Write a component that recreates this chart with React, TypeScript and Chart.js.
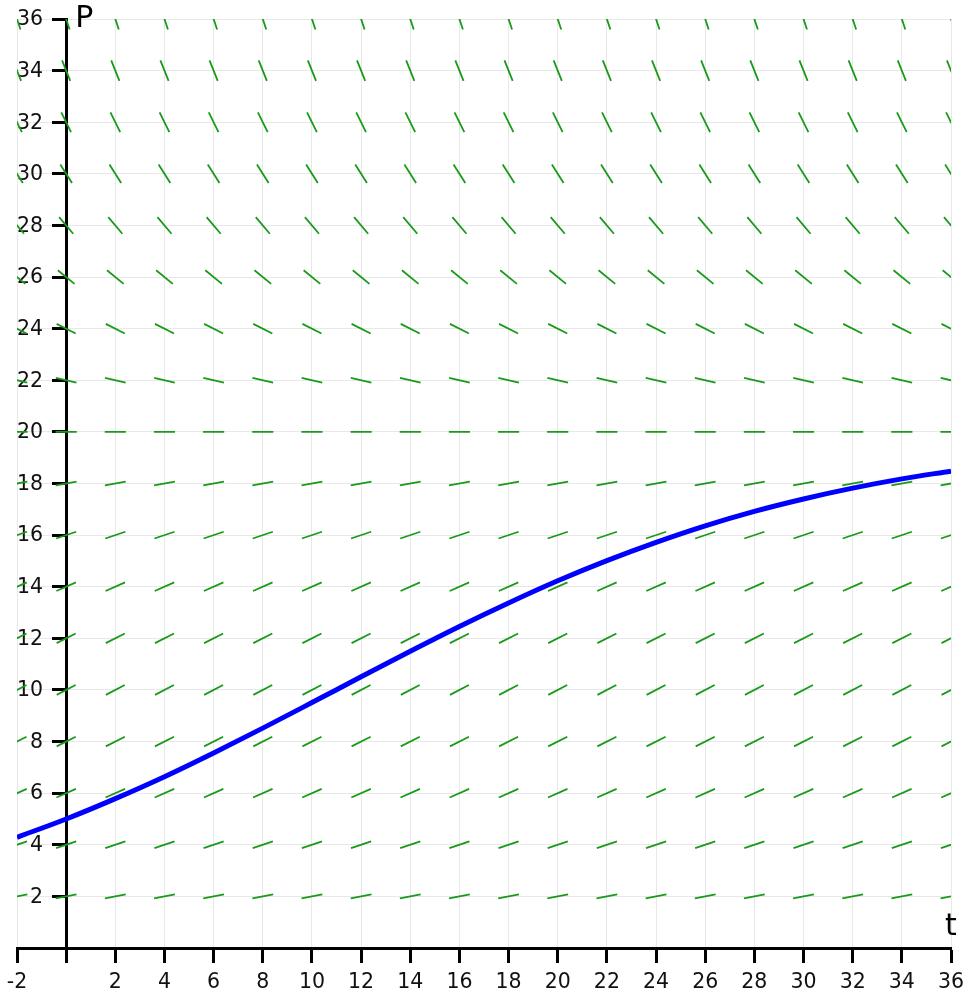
import React, { useEffect, useRef } from "react";
import { Chart, registerables } from "chart.js";

Chart.register(...registerables);

// Slope field grid
const tGrid = [-2, 0, 2, 4, 6, 8, 10, 12, 14, 16, 18, 20, 22, 24, 26, 28, 30, 32, 34, 36];
const pGrid = [2, 4, 6, 8, 10, 12, 14, 16, 18, 20, 22, 24, 26, 28, 30, 32, 34, 36];
// slope dP/dt read at each P row
const slopes = [0.18, 0.32, 0.42, 0.48, 0.5, 0.48, 0.42, 0.32, 0.18, 0, -0.22, -0.48, -0.78, -1.12, -1.5, -1.92, -2.38, -2.88];

// Solution curve
const curveT = [-2, 0, 2, 4, 6, 8, 10, 12, 14, 16, 18, 20, 22, 24, 26, 28, 30, 32, 34, 36];
const curveP = [4.29, 5, 5.79, 6.64, 7.56, 8.52, 9.51, 10.51, 11.5, 12.46, 13.37, 14.23, 15.01, 15.72, 16.36, 16.92, 17.4, 17.82, 18.18, 18.48];

const SEG_HALF = 0.43;
const FONT = "'DejaVu Sans', sans-serif";

export default function App() {
  const ref = useRef<HTMLCanvasElement | null>(null);

  useEffect(() => {
    if (!ref.current) return;
    const segData: { x: number; y: number | null }[] = [];
    pGrid.forEach((p, i) => {
      const m = slopes[i];
      const dx = SEG_HALF / Math.sqrt(1 + m * m);
      tGrid.forEach((t) => {
        segData.push({ x: t - dx, y: p - m * dx });
        segData.push({ x: t + dx, y: p + m * dx });
        segData.push({ x: t, y: null });
      });
    });
    const curveData = curveT.map((t, i) => ({ x: t, y: curveP[i] }));

    const yLabels = {
      id: "yLabels",
      beforeDatasetsDraw(chart: any) {
        const { ctx, scales } = chart;
        const x0 = scales.x.getPixelForValue(0);
        ctx.save();
        ctx.fillStyle = "#111";
        ctx.font = `20.5px ${FONT}`;
        ctx.textAlign = "right";
        ctx.textBaseline = "middle";
        scales.y.ticks.forEach((tk: any) => {
          if (tk.value === 0) return;
          ctx.fillText(String(tk.value), x0 - 23, scales.y.getPixelForValue(tk.value) + 1);
        });
        ctx.restore();
      },
    };

    const titles = {
      id: "axisTitles",
      afterDraw(chart: any) {
        const { ctx, chartArea, scales } = chart;
        const x0 = scales.x.getPixelForValue(0);
        const y0 = scales.y.getPixelForValue(0);
        ctx.save();
        ctx.fillStyle = "#000";
        ctx.font = `30px ${FONT}`;
        ctx.textBaseline = "alphabetic";
        ctx.textAlign = "left";
        ctx.fillText("P", x0 + 9, chartArea.top + 8);
        ctx.textAlign = "center";
        ctx.fillText("t", chartArea.right, y0 - 13);
        ctx.restore();
      },
    };

    const chart = new Chart(ref.current, {
      type: "scatter",
      data: {
        datasets: [
          {
            data: curveData,
            showLine: true,
            borderColor: "#0000ff",
            borderWidth: 5,
            pointRadius: 0,
            cubicInterpolationMode: "monotone",
            clip: 0,
          } as any,
          {
            data: segData,
            showLine: true,
            spanGaps: false,
            borderColor: "#1a9a1a",
            borderWidth: 1.8,
            pointRadius: 0,
            clip: 0,
          } as any,
        ],
      },
      plugins: [yLabels, titles],
      options: {
        animation: false,
        responsive: true,
        maintainAspectRatio: false,
        layout: { padding: { left: 17, top: 19, right: 22, bottom: 52 } },
        plugins: { legend: { display: false }, tooltip: { enabled: false } },
        scales: {
          x: {
            type: "linear",
            min: -2,
            max: 36,
            position: { y: 0 } as any,
            afterFit: (s: any) => {
              s.paddingLeft = 0;
              s.paddingRight = 0;
            },
            ticks: {
              stepSize: 2,
              color: "#111",
              font: { family: FONT, size: 20.5 },
              padding: 9,
              maxRotation: 0,
              autoSkip: false,
              callback: (v: any) => (v === 0 ? "" : String(v)),
            },
            grid: { color: "#e8e8e8", lineWidth: 1, tickColor: "#000", tickWidth: 3, tickLength: 13 },
            border: { color: "#000", width: 3 },
          },
          y: {
            type: "linear",
            min: 0,
            max: 36,
            position: { x: 0 } as any,
            afterFit: (s: any) => {
              s.paddingTop = 0;
              s.paddingBottom = 0;
            },
            ticks: {
              stepSize: 2,
              display: false,
              autoSkip: false,
            },
            grid: { color: "#e8e8e8", lineWidth: 1, tickColor: "#000", tickWidth: 3, tickLength: 13 },
            border: { color: "#000", width: 3 },
          },
        },
      } as any,
    });
    return () => chart.destroy();
  }, []);

  return (
    <div style={{ position: "absolute", left: 0, top: 0, width: 973, height: 1000 }}>
      <canvas ref={ref} />
    </div>
  );
}
